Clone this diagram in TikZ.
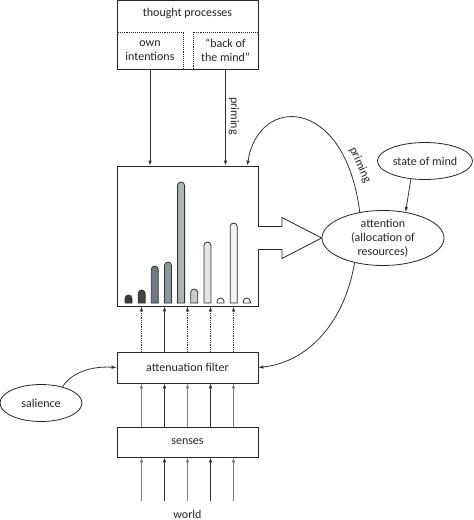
\documentclass[tikz,border=0pt]{standalone}
\usepackage{fontspec}
\setmainfont{Carlito}
\usetikzlibrary{arrows.meta,shapes.geometric}

% Balkenfarben
\definecolor{barA}{HTML}{383838}
\definecolor{barB}{HTML}{404646}
\definecolor{barC}{HTML}{6E7A80}
\definecolor{barD}{HTML}{8A9899}
\definecolor{barE}{HTML}{A8B6B6}
\definecolor{barF}{HTML}{C2CECE}
\definecolor{barG}{HTML}{E2E5E5}
\definecolor{barH}{HTML}{F3F3F3}

\begin{document}
\begin{tikzpicture}[
    x=1pt, y=-1pt,
    font=\fontsize{12}{14}\selectfont,
    text=black!85,
    % Stile für Konsistenz
    box/.style={draw=black!85, line width=0.8pt, fill=white, minimum width=141pt, inner sep=0pt},
    subbox/.style={draw=black!85, densely dotted, line width=0.9pt, minimum height=37pt, inner sep=0pt, align=center},
    blob/.style={ellipse, draw=black!85, line width=0.8pt, fill=white, inner sep=0pt, align=center},
    pfeil/.style={-{Latex[length=5pt,width=3.6pt]}, line width=0.8pt, draw=black!80},
    graupfeil/.style={pfeil, draw=black!50},
    bar/.style={draw=black!80, line width=0.8pt}
]
    \useasboundingbox (0,0) rectangle (474,520);

    % ==========================================
    % GEDANKENPROZESSE
    % ==========================================
    \node[box, minimum height=68.5pt] (thought) at (187.5,34.75) {};
    \node at (187.5,13) {thought processes};
    \node[subbox, minimum width=66pt] (own) at (150,50.5) {own\\intentions};
    \node[subbox, minimum width=65pt] (back) at (225.5,50.5) {“back of\\the mind”};

    % ==========================================
    % BALKENDIAGRAMM
    % ==========================================
    \node[box, minimum height=140pt] (bars) at (187.5,236) {};
    \foreach \i/\h/\farbe in {0/295/barA, 1/290/barB, 2/266/barC, 3/262/barD, 4/182/barE,
                              5/289/barF, 6/242/barG, 7/298/white, 8/223/barH, 9/298/white}{
        \pgfmathsetmacro\bx{128.5+13.15*\i}
        \draw[bar, fill=\farbe] (\bx-3.5,303) -- (\bx-3.5,\h+3.5)
            arc[start angle=180, end angle=360, radius=3.5] -- (\bx+3.5,303) -- cycle;
    }

    \draw[pfeil] (own.south) -- (own.south |- bars.north);
    \draw[pfeil] (back.south) -- (back.south |- bars.north);
    \node[rotate=-90, inner sep=0pt] (prim1) at (234,116) {priming};

    % ==========================================
    % AUFMERKSAMKEIT
    % ==========================================
    \node[blob, minimum width=122pt, minimum height=55pt] (att) at (383,238) {attention\\(allocation of\\resources)};
    \node[blob, minimum width=95pt, minimum height=37pt] (som) at (425,161) {state of mind};
    \draw[pfeil] (som.232) -- (att.49);

    % großer Hohlpfeil
    \draw[line width=0.8pt, draw=black!85, fill=white] (258,226.5) -- (282,226.5) -- (282,217.5)
        -- (att.west) -- (282,258.5) -- (282,249.5) -- (258,249.5);

    % Rückkopplung (priming)
    \draw[pfeil] (att.132) .. controls (345,95) and (258,95) .. ([xshift=-11pt]bars.north east);
    \node[rotate=-66, inner sep=0pt] (prim2) at (360,165) {priming};

    % ==========================================
    % FILTER UND SINNE
    % ==========================================
    \node[box, minimum height=31pt] (filter) at (187.5,367.5) {attenuation filter};
    \node[box, minimum height=30pt] (senses) at (187.5,442) {senses};
    \node (world) at (187.5,514) {world};

    \draw[pfeil] (att.221) .. controls (345,320) and (310,362) .. (filter.east);

    \node[blob, minimum width=82pt, minimum height=37pt] (sal) at (41,403) {salience};
    \draw[pfeil] (sal.37) .. controls (72,372) and (92,366) .. (filter.west);

    % Pfeile nach oben
    \foreach \dx/\stil in {-46/graupfeil, -23/pfeil, 0/graupfeil, 23/pfeil, 46/graupfeil}{
        \draw[\stil] ([xshift=\dx pt, yshift=5pt]world.north) -- ([xshift=\dx pt]senses.south);
        \draw[\stil] ([xshift=\dx pt]senses.north) -- ([xshift=\dx pt]filter.south);
    }
    \foreach \dx in {-46, 0, 23, 46}{
        \draw[pfeil, densely dotted, line width=0.9pt] ([xshift=\dx pt]filter.north) -- ([xshift=\dx pt]bars.south);
    }
    \draw[pfeil] ([xshift=-23pt]filter.north) -- ([xshift=-23pt]bars.south);

\end{tikzpicture}
\end{document}
